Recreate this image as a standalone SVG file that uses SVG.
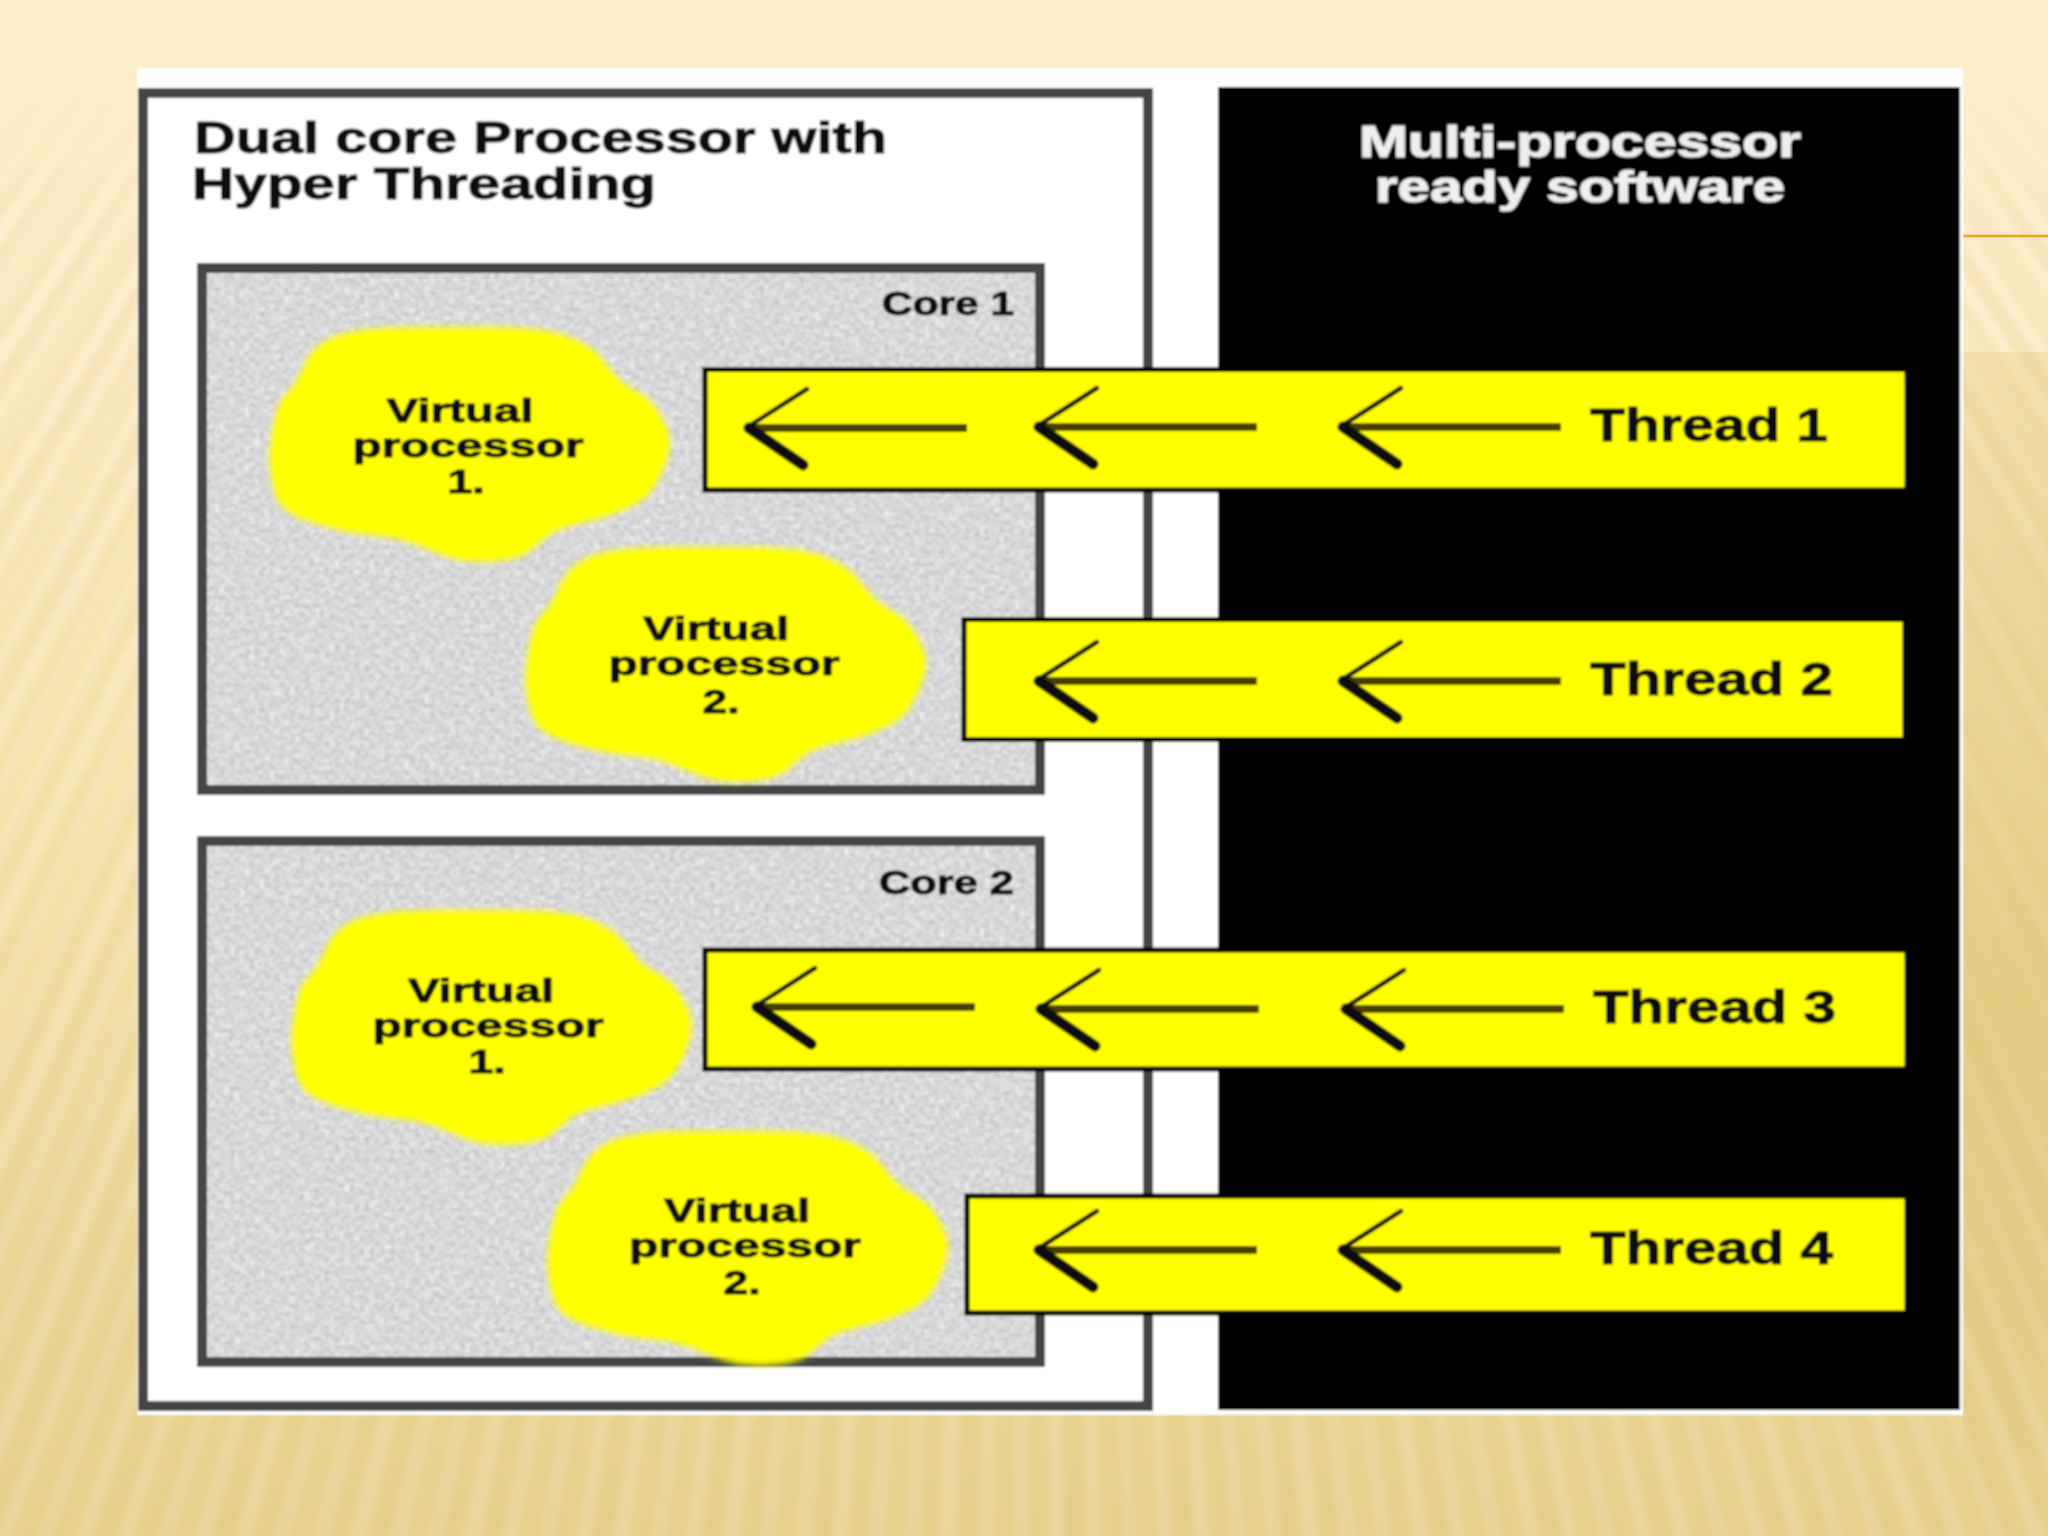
<svg xmlns="http://www.w3.org/2000/svg" xmlns:xlink="http://www.w3.org/1999/xlink" width="2048" height="1536" viewBox="0 0 2048 1536">
<style>
text{font-family:"Liberation Sans",Arial,sans-serif;font-weight:700;fill:#0c0c0c;stroke:#0c0c0c;stroke-width:1}
.title{font-size:44px}
.head{font-size:44px;fill:#efefef;stroke:#efefef}
.core{font-size:34px}
.vp{font-size:34px;text-anchor:middle}
.thr{font-size:46px}
.frame{fill:none;stroke:#454545;stroke-width:10}
.tbox{fill:#ffff00;stroke:#000;stroke-width:5}
.cloud{fill:#ffff00;filter:url(#glow)}
</style>
<defs>
<linearGradient id="bg" x1="0" y1="0" x2="0" y2="1">
<stop offset="0" stop-color="#fdefcc"/><stop offset=".12" stop-color="#fcecc4"/><stop offset=".5" stop-color="#f6e4ae"/><stop offset=".8" stop-color="#ecd698"/><stop offset="1" stop-color="#e8d08c"/>
</linearGradient>
<linearGradient id="fade" x1="0" y1="0" x2="0" y2="1">
<stop offset=".05" stop-color="#000"/><stop offset=".16" stop-color="#fff"/><stop offset="1" stop-color="#bbb"/>
</linearGradient>
<linearGradient id="rdark" x1="0" y1="0" x2="0" y2="1">
<stop offset="0" stop-color="#dcbc68" stop-opacity=".25"/><stop offset=".55" stop-color="#dcbc68" stop-opacity=".55"/><stop offset=".8" stop-color="#dcbc68" stop-opacity=".35"/><stop offset="1" stop-color="#dcbc68" stop-opacity="0"/>
</linearGradient>
<mask id="fm" maskUnits="userSpaceOnUse" x="0" y="0" width="2048" height="1536"><rect width="2048" height="1536" fill="url(#fade)"/></mask>
<filter id="tex" x="0" y="0" width="100%" height="100%" color-interpolation-filters="sRGB">
<feTurbulence type="fractalNoise" baseFrequency=".2 .24" numOctaves="3" seed="7"/>
<feColorMatrix type="matrix" values=".36 0 0 0 .67  .36 0 0 0 .67  .36 0 0 0 .68  0 0 0 0 1"/>
<feGaussianBlur stdDeviation=".8"/>
<feComposite in2="SourceGraphic" operator="in"/>
</filter>
<filter id="glow" x="-5%" y="-5%" width="110%" height="110%"><feGaussianBlur stdDeviation="3"/></filter>
<filter id="soft" filterUnits="userSpaceOnUse" x="0" y="0" width="2048" height="1536"><feGaussianBlur stdDeviation=".8"/></filter>
<filter id="stripe" filterUnits="userSpaceOnUse" x="0" y="0" width="2048" height="1536"><feGaussianBlur stdDeviation="2.500"/></filter>
<path id="cl" d="M362 330C384 327 420 327 450 327C480 327 517 327 540 330C563 333 576 339 589 347C602 355 610 371 620 380C630 389 644 393 652 403C660 413 670 429 670 443C670 457 661 478 652 490C643 502 632 506 616 513C600 520 574 523 558 530C542 537 534 552 518 557C502 562 479 563 460 560C441 557 422 545 402 540C382 535 358 535 339 530C320 525 298 520 286 510C274 500 272 484 270 467C268 450 273 424 277 410C281 396 288 394 295 383C302 372 306 356 317 347C328 338 340 333 362 330Z"/>
<g id="arr">
<path d="M6 0H221" fill="none" stroke="#463f00" stroke-width="8"/>
<path d="M0 0L61 -39" fill="none" stroke="#111" stroke-width="4.500" stroke-linecap="round"/>
<path d="M3 0L57 37" fill="none" stroke="#111" stroke-width="11" stroke-linecap="round"/>
</g>
</defs>
<g id="background">
<rect width="2048" height="1536" fill="url(#bg)"/>
<g mask="url(#fm)">
<g fill="none" filter="url(#stripe)">
<circle cx="1024" cy="-1200" r="2200" stroke="#fff" stroke-opacity=".2" stroke-width="2400" stroke-dasharray="14 15"/>
<circle cx="1024" cy="-1200" r="2200" stroke="#d9bd70" stroke-opacity=".1" stroke-width="2400" stroke-dasharray="23 19"/>
</g>
</g>
<rect x="1963" y="352" width="85" height="1184" fill="url(#rdark)"/>
<rect x="1963" y="234.700" width="85" height="2.600" fill="#f0a02e"/>
</g>
<g filter="url(#soft)">
<rect id="image-ground" x="137" y="68" width="1826" height="1347" fill="#fff"/>
<g id="software">
<rect x="1218" y="87" width="742" height="1323" fill="#000"/>
<text class="head" x="1359" y="157" textLength="442" lengthAdjust="spacingAndGlyphs">Multi-processor</text>
<text class="head" x="1375" y="202" textLength="410" lengthAdjust="spacingAndGlyphs">ready software</text>
</g>
<g id="processor">
<rect class="frame" x="143" y="93" width="1005" height="1313"/>
<text class="title" x="194" y="153" textLength="693" lengthAdjust="spacingAndGlyphs">Dual core Processor with</text>
<text class="title" x="192" y="199" textLength="464" lengthAdjust="spacingAndGlyphs">Hyper Threading</text>
</g>
<g id="core-1">
<rect x="202" y="268" width="838" height="522" fill="#d4d4d6" filter="url(#tex)"/>
<rect class="frame" x="202" y="268" width="838" height="522"/>
<text class="core" x="882" y="315" textLength="132" lengthAdjust="spacingAndGlyphs">Core 1</text>
</g>
<g id="core-2">
<rect x="202" y="841" width="838" height="521" fill="#d4d4d6" filter="url(#tex)"/>
<rect class="frame" x="202" y="841" width="838" height="521"/>
<text class="core" x="879" y="894" textLength="135" lengthAdjust="spacingAndGlyphs">Core 2</text>
</g>
<g id="vp-1-1">
<use xlink:href="#cl" href="#cl" class="cloud"/>
<text class="vp" x="460" y="422" textLength="147" lengthAdjust="spacingAndGlyphs">Virtual</text>
<text class="vp" x="468" y="457" textLength="231" lengthAdjust="spacingAndGlyphs">processor</text>
<text class="vp" x="466" y="493" textLength="37" lengthAdjust="spacingAndGlyphs">1.</text>
</g>
<g id="vp-1-2">
<use xlink:href="#cl" href="#cl" class="cloud" transform="translate(256 220)"/>
<text class="vp" x="716" y="640" textLength="146" lengthAdjust="spacingAndGlyphs">Virtual</text>
<text class="vp" x="724" y="675" textLength="231" lengthAdjust="spacingAndGlyphs">processor</text>
<text class="vp" x="721" y="713" textLength="37" lengthAdjust="spacingAndGlyphs">2.</text>
</g>
<g id="vp-2-1">
<use xlink:href="#cl" href="#cl" class="cloud" transform="translate(22 583)"/>
<text class="vp" x="481" y="1002" textLength="146" lengthAdjust="spacingAndGlyphs">Virtual</text>
<text class="vp" x="488" y="1037" textLength="231" lengthAdjust="spacingAndGlyphs">processor</text>
<text class="vp" x="487" y="1073" textLength="37" lengthAdjust="spacingAndGlyphs">1.</text>
</g>
<g id="vp-2-2">
<use xlink:href="#cl" href="#cl" class="cloud" transform="translate(278 804)"/>
<text class="vp" x="737" y="1222" textLength="146" lengthAdjust="spacingAndGlyphs">Virtual</text>
<text class="vp" x="745" y="1257" textLength="232" lengthAdjust="spacingAndGlyphs">processor</text>
<text class="vp" x="742" y="1294" textLength="37" lengthAdjust="spacingAndGlyphs">2.</text>
</g>
<g id="thread-1">
<rect class="tbox" x="705" y="369.500" width="1202" height="120.500"/>
<text class="thr" x="1590" y="441" textLength="238" lengthAdjust="spacingAndGlyphs">Thread 1</text>
</g>
<g id="thread-2">
<rect class="tbox" x="964" y="619.500" width="941" height="120"/>
<text class="thr" x="1590" y="695" textLength="243" lengthAdjust="spacingAndGlyphs">Thread 2</text>
</g>
<g id="thread-3">
<rect class="tbox" x="705" y="950" width="1202" height="119"/>
<text class="thr" x="1593" y="1023" textLength="243" lengthAdjust="spacingAndGlyphs">Thread 3</text>
</g>
<g id="thread-4">
<rect class="tbox" x="967" y="1196" width="940" height="117"/>
<text class="thr" x="1590" y="1264" textLength="243" lengthAdjust="spacingAndGlyphs">Thread 4</text>
</g>
<g id="connectors">
<use xlink:href="#arr" href="#arr" transform="translate(746 428)"/>
<use xlink:href="#arr" href="#arr" transform="translate(1036 427)"/>
<use xlink:href="#arr" href="#arr" transform="translate(1340 427)"/>
<use xlink:href="#arr" href="#arr" transform="translate(1036 681)"/>
<use xlink:href="#arr" href="#arr" transform="translate(1340 681)"/>
<use xlink:href="#arr" href="#arr" transform="translate(754 1007)"/>
<use xlink:href="#arr" href="#arr" transform="translate(1038 1009)"/>
<use xlink:href="#arr" href="#arr" transform="translate(1343 1009)"/>
<use xlink:href="#arr" href="#arr" transform="translate(1036 1250)"/>
<use xlink:href="#arr" href="#arr" transform="translate(1340 1250)"/>
</g>
</g>
</svg>
